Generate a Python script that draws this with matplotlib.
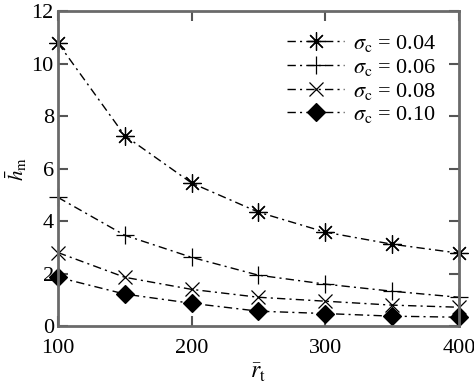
import matplotlib
matplotlib.use('Agg')
import matplotlib.pyplot as plt

plt.rcParams['font.family'] = ['Liberation Serif', 'DejaVu Serif']
plt.rcParams['mathtext.fontset'] = 'stix'

r_t = [100, 150, 200, 250, 300, 350, 400]
h_004 = [10.78, 7.25, 5.45, 4.34, 3.58, 3.12, 2.78]
h_006 = [4.9, 3.46, 2.62, 1.94, 1.6, 1.33, 1.1]
h_008 = [2.8, 1.86, 1.4, 1.1, 0.95, 0.8, 0.72]
h_010 = [1.86, 1.22, 0.87, 0.57, 0.48, 0.38, 0.34]
labels = ['0.04', '0.06', '0.08', '0.10']

fig = plt.figure(figsize=(4.74, 3.92), dpi=100)
ax = fig.add_axes([0.1224, 0.168, 0.8456, 0.804])

series = [h_004, h_006, h_008, h_010]
markers = [(8, 2, 0), '+', 'x', 'D']
sizes = [13, 13, 10, 9]
for ys, lab, m, s in zip(series, labels, markers, sizes):
    ax.plot(r_t, ys, color='black', linestyle=(0, (6, 3, 1.5, 3)), linewidth=1,
            marker=m, markersize=s, markeredgewidth=0.9, markerfacecolor='black',
            markeredgecolor='black', clip_on=False,
            label=r'$\sigma_{\rm c}$' + ' = ' + lab)

ax.set_xlim(100, 400)
ax.set_ylim(0, 12)
ax.set_xticks([100, 200, 300, 400])
ax.set_yticks([0, 2, 4, 6, 8, 10, 12])
ax.tick_params(direction='in', top=True, right=True, length=7, width=1.5,
               color='#555555', labelsize=16)
ax.tick_params(axis='x', pad=9)
ax.tick_params(axis='y', pad=3)
for sp in ax.spines.values():
    sp.set_color('#6a6a6a')
    sp.set_linewidth(2)

ax.set_xlabel(r'$\bar{r}_{\rm t}$', fontsize=17, labelpad=3)
ax.set_ylabel(r'$\bar{h}_{\rm m}$', fontsize=15)
ax.yaxis.set_label_coords(-0.072, 0.5)

ax.legend(loc='upper right', frameon=False, fontsize=16, handlelength=2.6,
          handletextpad=0.4, labelspacing=0.12, borderaxespad=0.6)

fig.savefig('out.png', dpi=100)
